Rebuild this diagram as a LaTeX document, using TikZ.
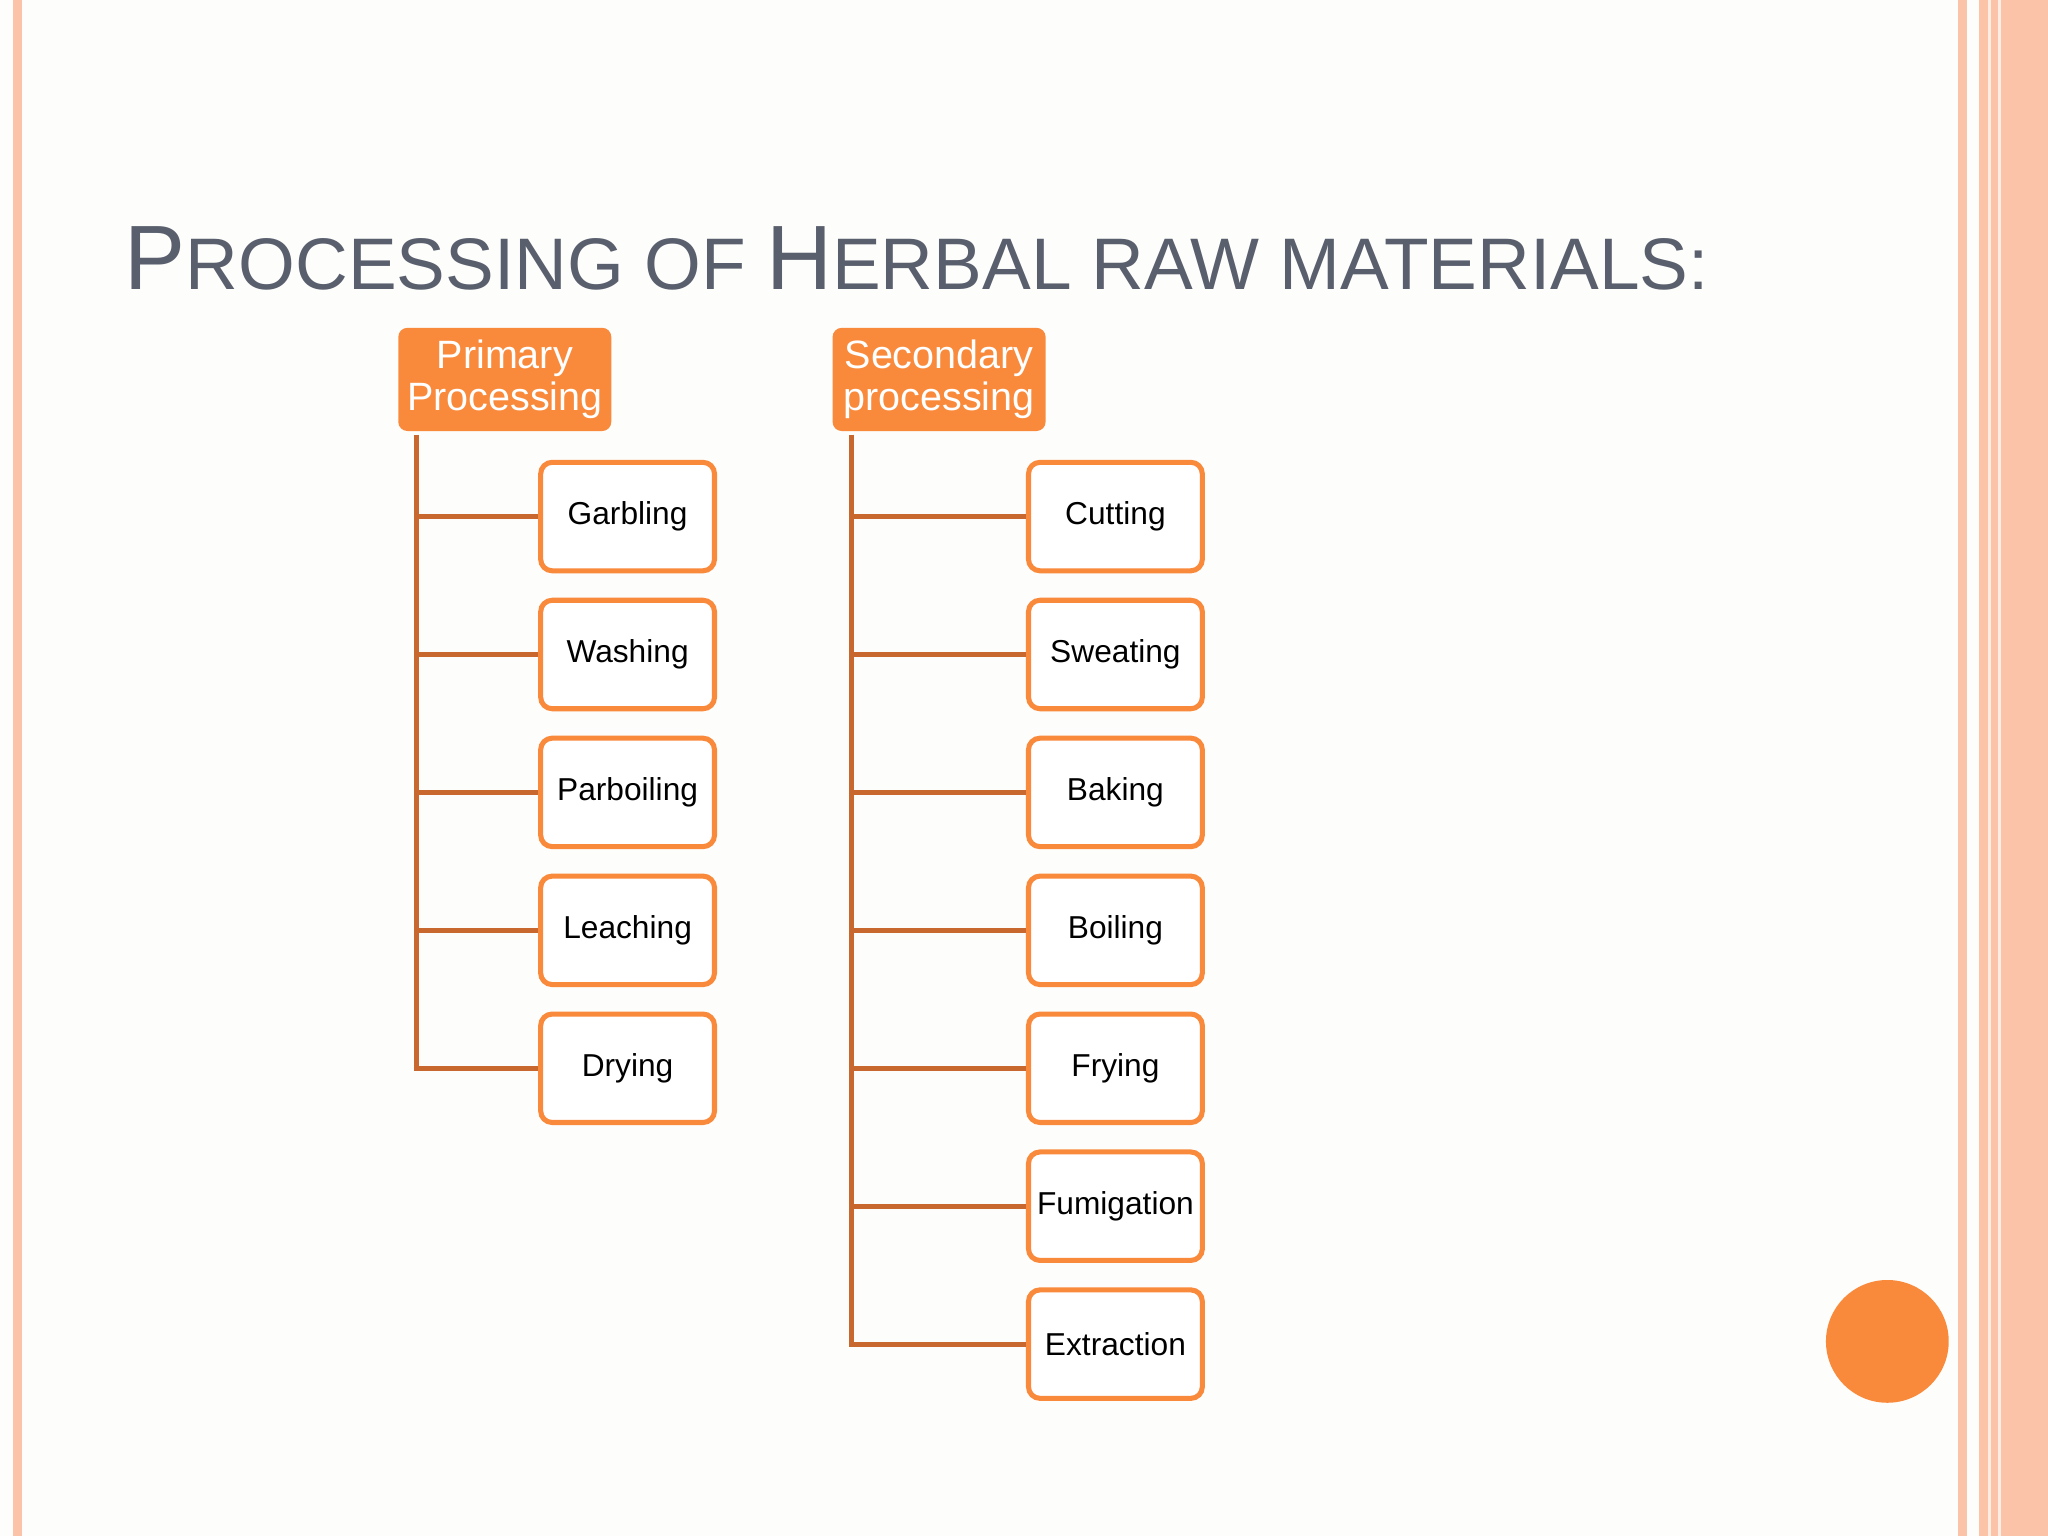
\documentclass[tikz,border=0pt]{standalone}
\usepackage{fontspec}
\setmainfont{Liberation Sans}
\definecolor{bg}{HTML}{FDFDFB}
\definecolor{org}{HTML}{F98A3C}
\definecolor{lnk}{HTML}{C8672E}
\definecolor{ttl}{HTML}{5A5F6E}
\definecolor{strp}{HTML}{FBC3A8}
\begin{document}
\begin{tikzpicture}[x=0.01cm,y=-0.01cm,
  head/.style={fill=org,rounded corners=2pt,minimum width=1.63cm,minimum height=0.79cm,text=white,font=\fontsize{8.6}{9}\selectfont,align=center,inner sep=0pt},
  item/.style={draw=org,line width=1.1pt,fill=white,rounded corners=2.5pt,minimum width=1.33cm,minimum height=0.83cm,font=\fontsize{6.9}{8}\selectfont,inner sep=0pt},
  link/.style={draw=lnk,line width=1.1pt}]
\fill[bg] (0,0) rectangle (1568,1176);
\useasboundingbox (0,0) rectangle (1568,1176);
% borders
\fill[strp] (10,0) rectangle (17,1176);
\fill[strp] (1499,0) rectangle (1506,1176);
\fill[strp] (1515,0) rectangle (1568,1176);
\draw[white!70!strp,line width=0.6pt] (1523,0) -- (1523,1176);
\draw[white!70!strp,line width=0.6pt] (1531,0) -- (1531,1176);
% title
\node[anchor=base west,inner sep=0pt,text=ttl] (title) at (95,222)
 {\fontsize{19.9}{20}\selectfont P\fontsize{15.9}{16}\selectfont ROCESSING OF \fontsize{19.9}{20}\selectfont H\fontsize{15.9}{16}\selectfont ERBAL RAW MATERIALS:};
% headers
\node[head] (P) at (386.5,290.5) {Primary\\Processing};
\node[head] (S) at (719,290.5) {Secondary\\processing};
\coordinate (pv) at (319,333);
\coordinate (sv) at (652,333);
% primary items
\foreach \n/\t [count=\i] in {p1/Garbling,p2/Washing,p3/Parboiling,p4/Leaching,p5/Drying}
  \node[item] (\n) at (480.5,{395.5+105.6*(\i-1)}) {\t};
\foreach \n/\t [count=\i] in {s1/Cutting,s2/Sweating,s3/Baking,s4/Boiling,s5/Frying,s6/Fumigation,s7/Extraction}
  \node[item] (\n) at (854,{395.5+105.6*(\i-1)}) {\t};
\draw[link] (pv) |- (p5.west);
\foreach \n in {p1,p2,p3,p4} \draw[link] (pv |- \n.west) -- (\n.west);
\draw[link] (sv) |- (s7.west);
\foreach \n in {s1,s2,s3,s4,s5,s6} \draw[link] (sv |- \n.west) -- (\n.west);
% circle
\fill[org] (1445,1027) circle (47);
\end{tikzpicture}
\end{document}
